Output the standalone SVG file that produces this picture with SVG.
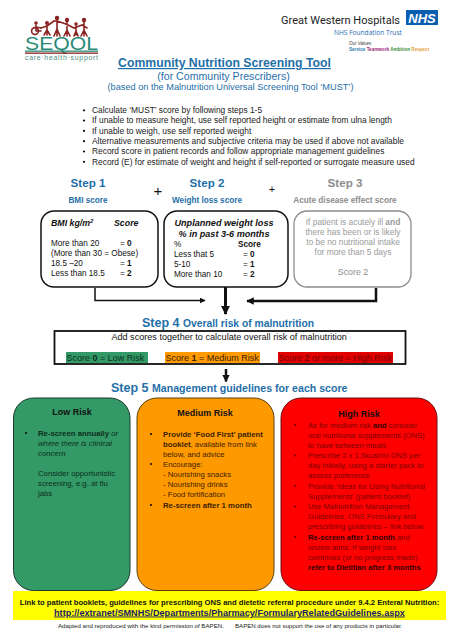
<svg xmlns="http://www.w3.org/2000/svg" width="453" height="640" viewBox="0 0 453 640">
<style>
text{font-family:"Liberation Sans",Arial,sans-serif;fill:#111}
.b{font-weight:bold}.i{font-style:italic}.m{text-anchor:middle}
.bl{fill:#1f6fa8}.gy{fill:#8c8c8c}
.bul{font-size:8.400px;fill:#222}
.st{font-size:11.600px;font-weight:bold;text-anchor:middle}
.sub{font-size:8.200px;font-weight:bold;text-anchor:middle}
.box{fill:#fff;stroke:#111;stroke-width:1.500}
.t{font-size:8.200px}
.th{font-size:8.800px;font-weight:bold;font-style:italic}
.g3{font-size:8.400px;fill:#9a9a9a;text-anchor:middle}
.r{font-size:7.750px;fill:#0d2f1e}
.o{font-size:7.750px;fill:#3a2200}
.h{font-size:7.600px;fill:#7a0000}
.hb{fill:#300000;font-weight:bold}
.head{font-size:9px;font-weight:bold;text-anchor:middle;fill:#111}
.peo{fill:none;stroke:#8b2323;stroke-width:1.600;stroke-linecap:round;stroke-linejoin:round}
.hd{fill:#8b2323}
</style>
<defs>
<marker id="a" viewBox="0 0 10 10" refX="9" refY="5" markerWidth="4" markerHeight="4" orient="auto"><path d="M0 0L10 5L0 10z" fill="#111"/></marker>
<marker id="a2" viewBox="0 0 10 10" refX="9" refY="5" markerWidth="3" markerHeight="3" orient="auto"><path d="M0 0L10 5L0 10z" fill="#111"/></marker>
</defs>
<rect width="453" height="640" fill="#fff"/>

<g id="seqol-logo">
<circle class="peo" cx="35" cy="31" r="3.400" stroke-width="1.200"/>
<circle class="hd" cx="36" cy="23" r="1.800"/>
<path class="peo" d="M36 25V31H41M36 27L41 28"/>
<circle class="hd" cx="47" cy="23" r="2"/><path class="peo" d="M47 25V35M44 35L47 30L50 35M41 28L47 26L54 21"/>
<circle class="hd" cx="57" cy="18" r="2.200"/><path class="peo" d="M57 20V36M54 36L57 29L60 36M54 21L57 21L66 24"/>
<circle class="hd" cx="67" cy="20" r="2.200"/><path class="peo" d="M67 22V36M64 36L67 30L70 36M66 24L74 28"/>
<circle class="hd" cx="76" cy="24" r="1.800"/><path class="peo" d="M76 26V35M74 36L76 31L78 36M74 28L82 25"/>
<circle class="hd" cx="84" cy="20" r="2.200"/><path class="peo" d="M84 22V36M81 36L84 30L87 36M82 25L87 28"/>
<text x="61.500" y="49.500" class="m" font-size="18.500" textLength="73" lengthAdjust="spacingAndGlyphs" style="fill:#2a8a78">SEQOL</text>
<rect x="25" y="50.500" width="73" height="1.300" fill="#2a8a78"/>
<rect x="25" y="52.500" width="73" height="1.300" fill="#8b2323"/>
<text x="61.500" y="59.500" class="m" font-size="7" textLength="73" style="fill:#4f8f85">care·health·support</text>
</g>

<g id="gwh-logo">
<text x="281" y="24" font-size="11" textLength="119" lengthAdjust="spacingAndGlyphs" style="font-family:Roboto,sans-serif;fill:#222">Great Western Hospitals</text>
<rect x="406" y="10" width="32" height="15" fill="#0a5eb0"/>
<text x="422" y="22.500" class="m b i" font-size="13" style="fill:#fff">NHS</text>
<text x="334" y="35" font-size="6.600" style="font-family:'Open Sans',sans-serif;fill:#2a6db0">NHS Foundation Trust</text>
<text x="349" y="45" font-size="4.500" class="i" style="fill:#333">Our Values</text>
<text x="349" y="50.500" font-size="4.600" class="b"><tspan style="fill:#2a7db0">Service </tspan><tspan style="fill:#a02a7a">Teamwork </tspan><tspan style="fill:#3a8a3a">Ambition </tspan><tspan style="fill:#e8a040">Respect</tspan></text>
</g>

<g id="title">
<text x="224.500" y="67" class="m b bl" font-size="12.250" text-decoration="underline">Community Nutrition Screening Tool</text>
<text x="223.500" y="79.500" class="m bl" font-size="10.600">(for Community Prescribers)</text>
<text x="230.500" y="90" class="m bl" font-size="9.200">(based on the Malnutrition Universal Screening Tool ‘MUST’)</text>
</g>

<g id="instructions">
<g fill="#111"><circle cx="84" cy="110.300" r="1.100"/><circle cx="84" cy="120.600" r="1.100"/><circle cx="84" cy="130.900" r="1.100"/><circle cx="84" cy="141.200" r="1.100"/><circle cx="84" cy="151.500" r="1.100"/><circle cx="84" cy="161.800" r="1.100"/></g>
<text x="92" y="113" class="bul">Calculate ‘MUST’ score by following steps 1-5</text>
<text x="92" y="123.300" class="bul">If unable to measure height, use self reported height or estimate from ulna length</text>
<text x="92" y="133.600" class="bul">If unable to weigh, use self reported weight</text>
<text x="92" y="143.900" class="bul">Alternative measurements and subjective criteria may be used if above not available</text>
<text x="92" y="154.200" class="bul">Record score in patient records and follow appropriate management guidelines</text>
<text x="92" y="164.500" class="bul">Record (E) for estimate of weight and height if self-reported or surrogate measure used</text>
</g>

<g id="step1">
<text x="88" y="187" class="st bl">Step 1</text>
<text x="88" y="203" class="sub bl">BMI score</text>
<rect class="box" x="41" y="211" width="117" height="76" rx="13"/>
<text x="51" y="226" class="th">BMI kg/m<tspan font-size="6" dy="-3">2</tspan></text>
<text x="114" y="226" class="th">Score</text>
<text x="51" y="245.500" class="t">More than 20</text><text x="120" y="245.500" class="t">= <tspan class="b">0</tspan></text>
<text x="51" y="255.500" class="t">(More than 30 = Obese)</text>
<text x="51" y="265.500" class="t">18.5 –20</text><text x="120" y="265.500" class="t">= <tspan class="b">1</tspan></text>
<text x="51" y="275.500" class="t">Less than 18.5</text><text x="120" y="275.500" class="t">= <tspan class="b">2</tspan></text>
</g>

<g id="plus-signs">
<text x="158" y="196" class="m" font-size="15">+</text>
<text x="272" y="193" class="m" font-size="11">+</text>
</g>

<g id="step2">
<text x="207" y="187" class="st bl">Step 2</text>
<text x="207" y="203" class="sub bl">Weight loss score</text>
<rect class="box" x="164" y="211" width="124" height="76" rx="13"/>
<text x="224" y="226" class="m b i" font-size="9.100">Unplanned weight loss</text>
<text x="224" y="237" class="m b i" font-size="9.100">% in past 3-6 months</text>
<text x="174" y="247" class="t">%</text><text x="238" y="247" class="t b">Score</text>
<text x="174" y="257" class="t">Less that 5</text><text x="243" y="257" class="t">= <tspan class="b">0</tspan></text>
<text x="174" y="267" class="t">5-10</text><text x="243" y="267" class="t">= <tspan class="b">1</tspan></text>
<text x="174" y="276.500" class="t">More than 10</text><text x="243" y="276.500" class="t">= <tspan class="b">2</tspan></text>
</g>

<g id="step3">
<text x="345" y="187" class="st gy">Step 3</text>
<text x="345" y="203" class="sub gy">Acute disease effect score</text>
<rect x="294" y="211" width="117" height="76" rx="13" fill="#fff" stroke="#8c8c8c" stroke-width="1.300"/>
<text x="353" y="225" class="g3">If patient is acutely ill <tspan class="b">and</tspan></text>
<text x="353" y="235" class="g3">there has been or is likely</text>
<text x="353" y="245" class="g3">to be no nutritional intake</text>
<text x="353" y="255" class="g3">for more than 5 days</text>
<text x="353" y="275" class="g3" style="font-size:8.800px;fill:#8c8c8c">Score 2</text>
</g>

<g id="connectors" fill="none" stroke="#111">
<path d="M95 288V300.500H205" stroke-width="1.500" marker-end="url(#a)"/>
<path d="M225.500 287V314" stroke-width="3" marker-end="url(#a2)"/>
<path d="M376 288V301H247" stroke-width="2.500" marker-end="url(#a2)"/>
<path d="M226 369V381.500" stroke-width="2.500" marker-end="url(#a2)"/>
</g>

<g id="step4">
<text x="142" y="327" class="b bl" font-size="12.500">Step 4 <tspan font-size="10.300">Overall risk of malnutrition</tspan></text>
<rect x="54.500" y="331" width="351" height="33" fill="#fff" stroke="#111" stroke-width="1.800"/>
<text x="230" y="339.500" class="m" font-size="9.100">Add scores together to calculate overall risk of malnutrition<tspan font-size="5" dy="-3">`</tspan></text>
<rect x="66" y="352" width="82" height="11" fill="#339966"/>
<rect x="165" y="352" width="95" height="11" fill="#ff9900"/>
<rect x="278" y="352" width="115" height="11" fill="#e00000"/>
<text x="66.500" y="361" font-size="9" style="fill:#0d2f1e">Score <tspan class="b">0</tspan> = Low Risk</text>
<text x="165.500" y="361" font-size="9" style="fill:#3a2200">Score <tspan class="b">1</tspan> = Medium Risk</text>
<text x="278.500" y="361" font-size="9" style="fill:#7a0000">Score <tspan class="b">2</tspan> or more = High Risk</text>
</g>

<g id="step5-heading">
<text x="111" y="391.500" class="b bl" font-size="12.500">Step 5 <tspan font-size="10.600">Management guidelines for each score</tspan></text>
</g>

<g id="low-risk">
<rect x="13.500" y="398" width="116.500" height="192.500" rx="20" fill="#339966" stroke="#1d3a2c"/>
<text x="72" y="415" class="head">Low Risk</text>
<circle cx="26" cy="433" r="1.100" fill="#111"/>
<text x="38" y="436" class="r"><tspan class="b">Re-screen annually</tspan><tspan class="i"> or</tspan></text>
<text x="38" y="446" class="r i">where there is clinical</text>
<text x="38" y="456" class="r i">concern</text>
<text x="38" y="476" class="r">Consider opportunistic</text>
<text x="38" y="486" class="r">screening, e.g. at flu</text>
<text x="38" y="496" class="r">jabs</text>
</g>

<g id="medium-risk">
<rect x="137" y="398" width="137" height="192.500" rx="20" fill="#ff9900" stroke="#5a4010"/>
<text x="205" y="416" class="head">Medium Risk</text>
<g fill="#111"><circle cx="151" cy="434" r="1.100"/><circle cx="151" cy="464" r="1.100"/><circle cx="151" cy="505" r="1.100"/></g>
<text x="163" y="437" class="o"><tspan class="b">Provide ‘Food First’ patient</tspan></text>
<text x="163" y="447" class="o"><tspan class="b">booklet</tspan>, available from link</text>
<text x="163" y="457" class="o">below, and advice</text>
<text x="163" y="467" class="o">Encourage:</text>
<text x="163" y="477" class="o">- Nourishing snacks</text>
<text x="163" y="487" class="o">- Nourishing drinks</text>
<text x="163" y="497" class="o">- Food fortification</text>
<text x="163" y="507.500" class="o b">Re-screen after 1 month</text>
</g>

<g id="high-risk">
<rect x="281" y="398" width="156" height="192.500" rx="20" fill="#ff0000" stroke="#6a1010"/>
<text x="359" y="417" class="head">High Risk</text>
<g fill="#7a0000"><circle cx="295" cy="425" r="1.100"/><circle cx="295" cy="455.500" r="1.100"/><circle cx="295" cy="486" r="1.100"/><circle cx="295" cy="506.500" r="1.100"/><circle cx="295" cy="537" r="1.100"/></g>
<text x="308" y="427.500" class="h">As for medium risk <tspan class="hb">and</tspan> consider</text>
<text x="308" y="437.500" class="h">oral nutritional supplements (ONS)</text>
<text x="308" y="447.500" class="h">to have between meals</text>
<text x="308" y="458" class="h">Prescribe 2 x 1.5kcal/ml ONS per</text>
<text x="308" y="468" class="h">day initially, using a starter pack to</text>
<text x="308" y="478" class="h">assess preference</text>
<text x="308" y="488.500" class="h">Provide ‘Ideas for Using Nutritional</text>
<text x="308" y="498.500" class="h">Supplements’ (patient booklet)</text>
<text x="308" y="509" class="h">Use Malnutrition Management</text>
<text x="308" y="519" class="h">Guidelines, ONS Formulary and</text>
<text x="308" y="529" class="h">prescribing guidelines – link below</text>
<text x="308" y="539.500" class="h"><tspan class="hb">Re-screen after 1 month</tspan> and</text>
<text x="308" y="549.500" class="h">review aims.  If weight loss</text>
<text x="308" y="559.500" class="h">continues (or no progress made)</text>
<text x="308" y="570" class="h hb">refer to Dietitian after 3 months</text>
</g>

<g id="link-banner">
<rect x="13" y="591" width="433" height="29" fill="#ffff00"/>
<text x="229.500" y="605" class="m b" font-size="7.600">Link to patient booklets, guidelines for prescribing ONS and dietetic referral procedure under 9.4.2 Enteral Nutrition:</text>
<text x="229.500" y="615.500" class="m b" font-size="9.130" text-decoration="underline" style="fill:#1a1a6e">http://extranet/SMNHS/Departments/Pharmacy/FormularyRelatedGuidelines.aspx</text>
</g>

<g id="footer">
<text x="58" y="628" font-size="6.150" style="fill:#222">Adapted and reproduced with the kind permission of BAPEN.</text>
<text x="235" y="628" font-size="6.100" style="fill:#222">BAPEN does not support the use of any products in particular.</text>
</g>
</svg>
